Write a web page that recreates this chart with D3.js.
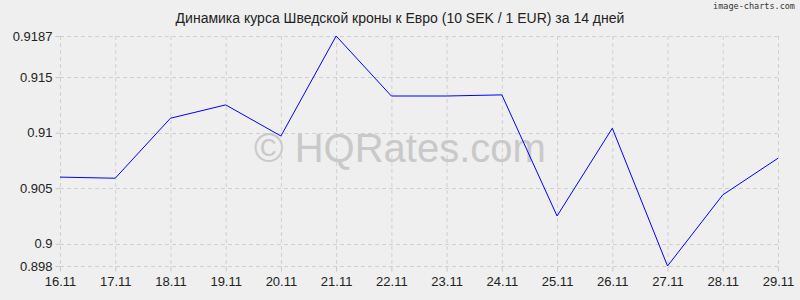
<!DOCTYPE html>
<html>
<head>
<meta charset="utf-8">
<script src="https://cdn.jsdelivr.net/npm/d3@7"></script>
<style>
    body { margin: 0; background: #efefef; }
    svg { display: block; font-family: "Liberation Sans", Arial, sans-serif; }
    .grid line { stroke: #d0d0d0; stroke-dasharray: 4,3; }
    .axis text { font-size: 13px; fill: #222; }
    .axis path { display: none; }
    .axis line { stroke: #c8c8c8; }
</style>
</head>
<body>
<div id="chart"></div>
<script>
const dates = ['16.11', '17.11', '18.11', '19.11', '20.11', '21.11', '22.11',
    '23.11', '24.11', '25.11', '26.11', '27.11', '28.11', '29.11']
const rates = [0.9060, 0.9059, 0.9113, 0.9125, 0.9097, 0.9187, 0.9133,
    0.9133, 0.9134, 0.9025, 0.9104, 0.8980, 0.9044, 0.9077]
const yTicks = [0.898, 0.9, 0.905, 0.91, 0.915, 0.9187]

const width = 800
const height = 300
const margin = { top: 36, right: 22, bottom: 34, left: 60 }

const svg = d3.select('#chart')
    .append('svg')
    .attr('width', width)
    .attr('height', height)

svg.append('rect')
    .attr('width', width)
    .attr('height', height)
    .attr('fill', '#efefef')

const x = d3.scalePoint()
    .domain(dates)
    .range([margin.left, width - margin.right])

const y = d3.scaleLinear()
    .domain([0.898, 0.9187])
    .range([height - margin.bottom, margin.top])

// grid
const grid = svg.append('g').attr('class', 'grid')
grid.selectAll('.vg')
    .data(dates)
    .enter().append('line')
    .attr('x1', d => x(d) + 0.5)
    .attr('x2', d => x(d) + 0.5)
    .attr('y1', margin.top)
    .attr('y2', height - margin.bottom)
grid.selectAll('.hg')
    .data(yTicks)
    .enter().append('line')
    .attr('x1', margin.left)
    .attr('x2', width - margin.right)
    .attr('y1', d => Math.round(y(d)) + 0.5)
    .attr('y2', d => Math.round(y(d)) + 0.5)

// axes
svg.append('g')
    .attr('class', 'axis')
    .attr('transform', `translate(${margin.left + 0.5},0)`)
    .call(d3.axisLeft(y).tickValues(yTicks).tickFormat(d => String(d)).tickSize(5).tickPadding(3))

svg.append('g')
    .attr('class', 'axis')
    .attr('transform', `translate(0,${height - margin.bottom + 0.5})`)
    .call(d3.axisBottom(x).tickSize(5).tickPadding(5))

// watermark
svg.append('text')
    .attr('x', 400)
    .attr('y', 162)
    .attr('text-anchor', 'middle')
    .style('font-size', '40px')
    .style('fill', '#c9c9c9')
    .text('© HQRates.com')

// line
const line = d3.line()
    .x((d, i) => x(dates[i]))
    .y(d => y(d))

svg.append('path')
    .datum(rates)
    .attr('d', line)
    .attr('fill', 'none')
    .attr('stroke', '#0000ff')
    .attr('stroke-width', 1)

// title
svg.append('text')
    .attr('x', 400)
    .attr('y', 23)
    .attr('text-anchor', 'middle')
    .style('font-size', '14px')
    .style('fill', '#222')
    .text('Динамика курса Шведской кроны к Евро (10 SEK / 1 EUR) за 14 дней')

svg.append('text')
    .attr('x', 795)
    .attr('y', 9)
    .attr('text-anchor', 'end')
    .style('font-size', '8.5px')
    .style('font-family', '"DejaVu Sans Mono", monospace')
    .style('fill', '#333')
    .text('image-charts.com')
</script>
</body>
</html>
